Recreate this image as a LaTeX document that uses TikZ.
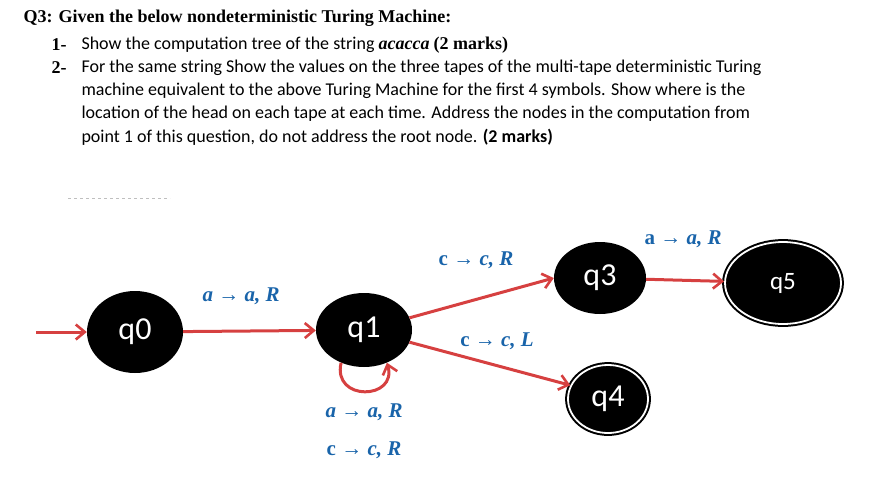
\documentclass[tikz,border=0pt]{standalone}
\usepackage{fontspec}
\setmainfont{Carlito}
\newfontfamily\tnr{Liberation Serif}
\usetikzlibrary{arrows.meta,shapes.geometric}
\definecolor{ered}{RGB}{214,64,64}
\definecolor{lblue}{RGB}{25,100,170}
\begin{document}
\begin{tikzpicture}[x=1pt,y=-1pt,
 st/.style={ellipse,fill=black,text=white,font=\fontsize{32}{32}\selectfont,inner sep=0pt},
 acc/.style={st,double=white,draw=black,double distance=1.8pt,line width=2pt},
 edge/.style={draw=ered,line width=3pt,-{Straight Barb[length=9pt,width=15pt,line width=2.6pt]}},
 lab/.style={text=lblue,font=\tnr\bfseries\fontsize{21}{21}\selectfont},
 txt/.style={anchor=west,font=\fontsize{18}{18}\selectfont}]
\useasboundingbox (0,0) rectangle (885,485);
\node[anchor=west,font=\tnr\bfseries\fontsize{18}{18}\selectfont] (t0) at (20,18) {Q3: Given the below nondeterministic Turing Machine:};
\node[anchor=west,font=\tnr\bfseries\fontsize{18}{18}\selectfont] (n1) at (48,45) {1-};
\node[txt] (l1) at (78,45) {Show the computation tree of the string {\tnr\bfseries\itshape acacca} {\tnr\bfseries (2 marks)}};
\node[anchor=west,font=\tnr\bfseries\fontsize{18}{18}\selectfont] (n2) at (48,68) {2-};
\node[txt] (l2) at (78,68) {For the same string Show the values on the three tapes of the multi-tape deterministic Turing};
\node[txt] (l3) at (78,91) {machine equivalent to the above Turing Machine for the first 4 symbols. Show where is the};
\node[txt] (l4) at (78,114) {location of the head on each tape at each time. Address the nodes in the computation from};
\node[txt] (l5) at (78,137) {point 1 of this question, do not address the root node. \textbf{(2 marks)}};
\draw[gray!50,dashed,line width=0.6pt] (68,198) -- (170,198);
\node[st,minimum width=96pt,minimum height=82pt] (q0) at (135,332) {q0};
\node[st,minimum width=96pt,minimum height=74pt] (q1) at (364,330) {q1};
\node[st,minimum width=92pt,minimum height=72pt] (q3) at (600,278) {q3};
\node[acc,minimum width=80pt,minimum height=68pt] (q4) at (608,399) {q4};
\node[acc,minimum width=116pt,minimum height=82pt,font=\fontsize{25}{25}\selectfont] (q5) at (783,283) {q5};
\coordinate (s) at (36,332);
\draw[edge] (s) -- (q0);
\draw[edge] (q0) -- (q1);
\draw[edge] (q1.15) -- (q3.west);
\draw[edge] (q1.-15) -- (q4.160);
\draw[edge] (q3) -- (q5);
\draw[edge] (q1.235) .. controls (332,402) and (398,400) .. (q1.305);
\node[lab] (e1) at (241,296) {\itshape a → a, R};
\node[lab] (e2) at (476,260) {c → \itshape c, R};
\node[lab] (e3) at (497,341) {c → \itshape c, L};
\node[lab] (e4) at (683,239) {a → \itshape a, R};
\node[lab] (e5) at (364,412) {\itshape a → a, R};
\node[lab] (e6) at (364,450) {c → \itshape c, R};
\end{tikzpicture}
\end{document}
